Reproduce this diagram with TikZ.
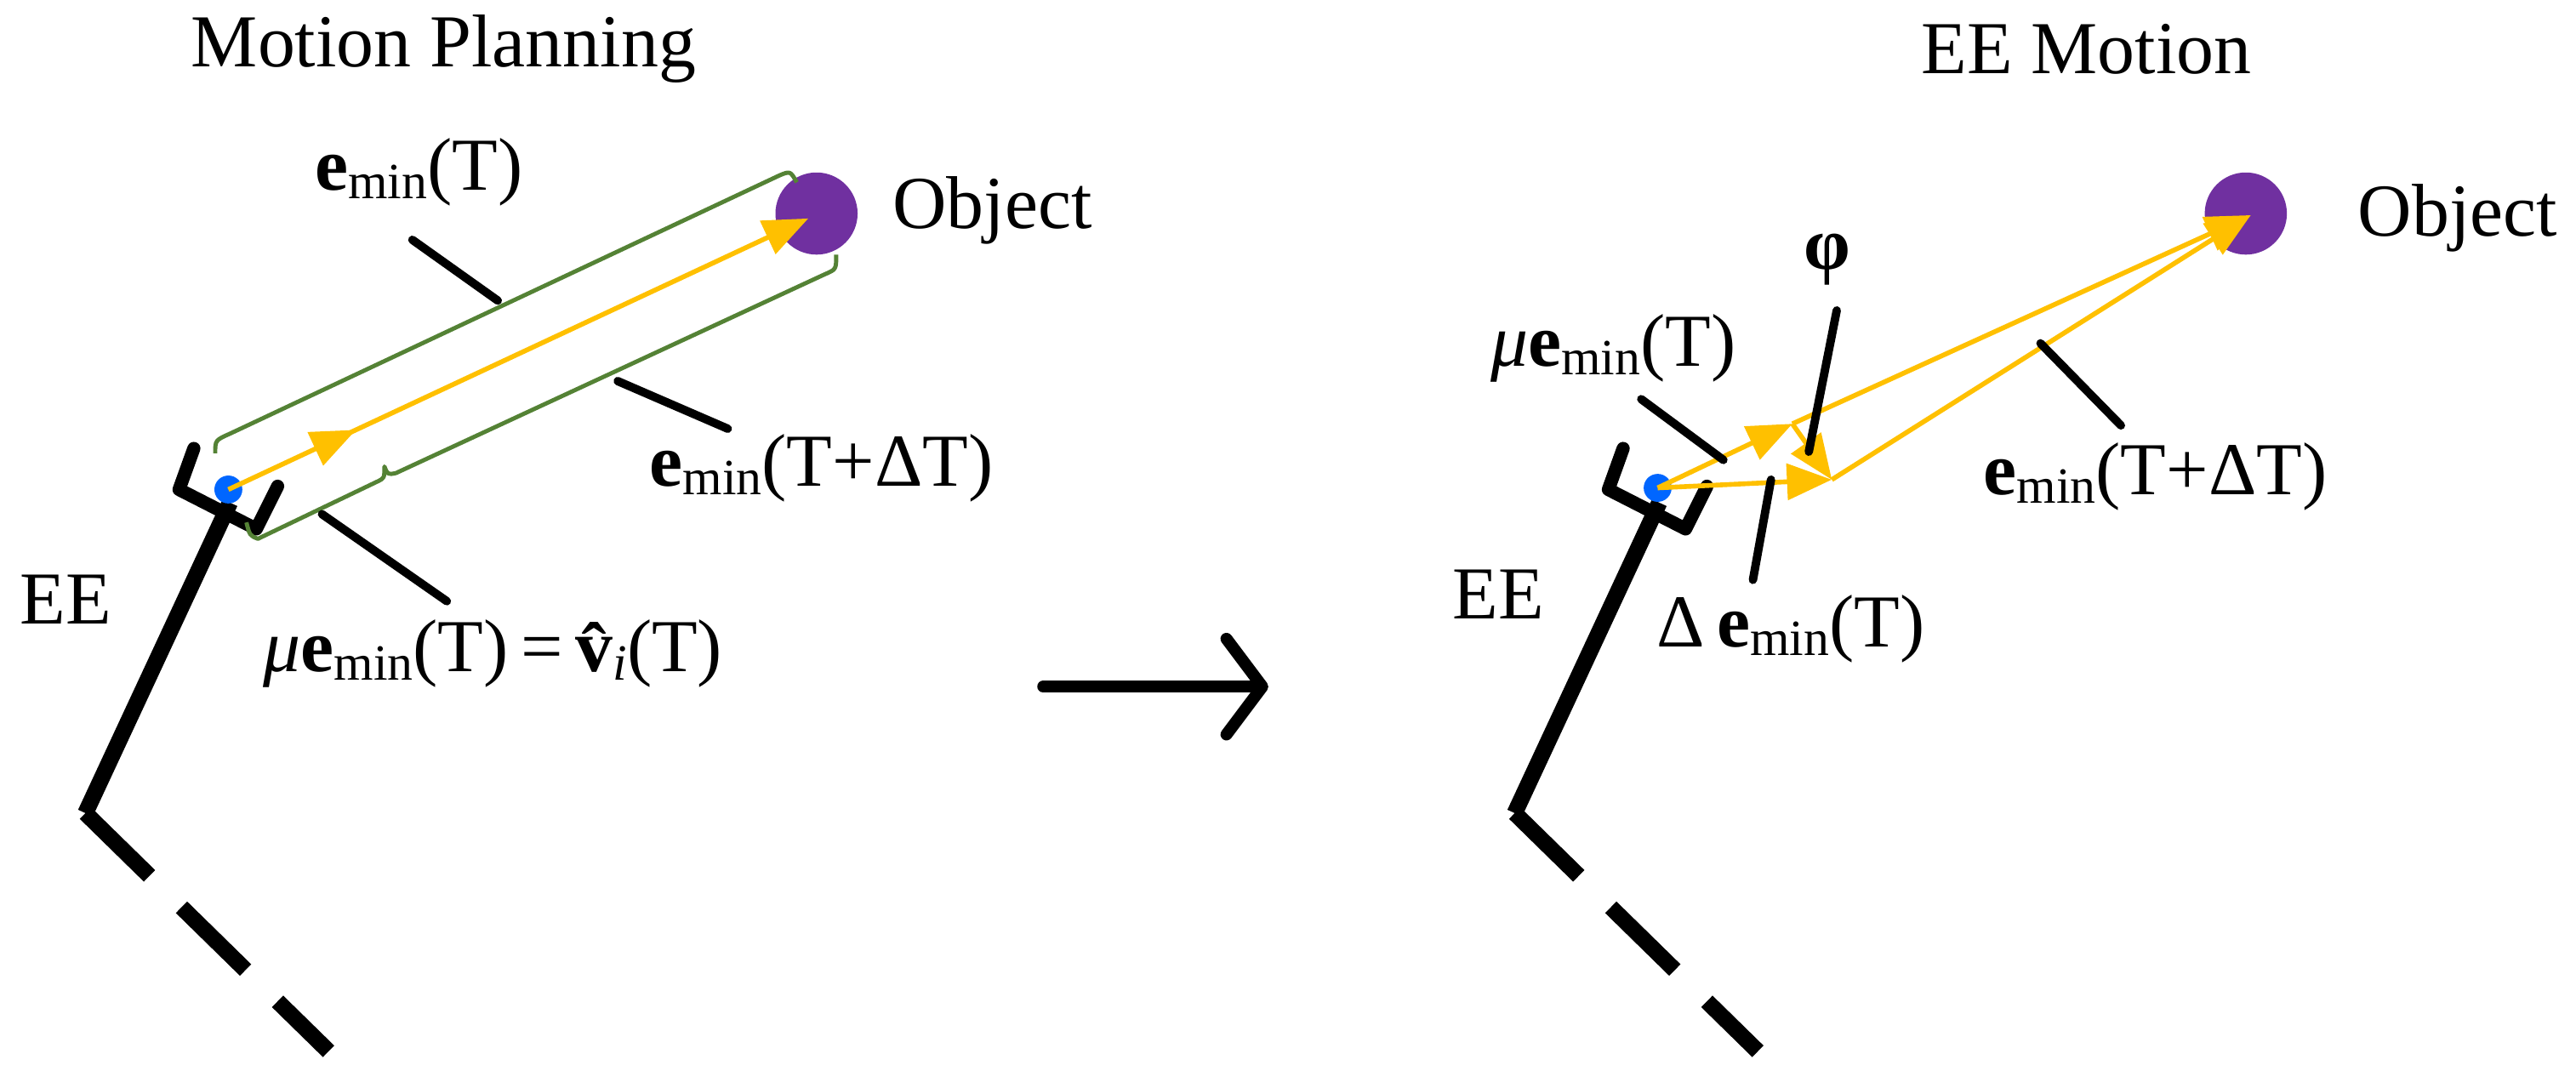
\documentclass[tikz,border=0pt]{standalone}
\usepackage{fontspec}
\setmainfont{Liberation Serif}
\usetikzlibrary{arrows.meta,decorations.markings}
\definecolor{yel}{HTML}{FFC000}
\definecolor{grn}{HTML}{548235}
\definecolor{pur}{HTML}{7030A0}
\definecolor{blu}{HTML}{0066FF}
\newcommand{\emn}{{\bfseries e}\raisebox{-0.25ex}{\fontsize{17}{17}\selectfont min}}
\begin{document}
\begin{tikzpicture}[x=0.01931cm,y=-0.01931cm,
  lbl/.style={font=\fontsize{25}{28}\selectfont, inner sep=0pt},
  tick/.style={line width=2.8pt, line cap=round},
  arm/.style={line width=5.4pt, line join=round},
  grip/.style={line width=4.4pt, line join=round, line cap=round},
  vec/.style={yel, line width=1.6pt, -{Triangle[length=15pt,width=12pt]}},
  brk/.style={grn, line width=1.4pt, line join=round},
  dot/.style={circle, fill=blu, minimum size=17*0.01931cm, inner sep=0pt},
  obj/.style={circle, fill=pur, minimum size=50*0.01931cm, inner sep=0pt}]
\useasboundingbox (0,0) rectangle (1568,648);
% ---------- left panel ----------
\node[lbl] (t1) at (270,30) {Motion Planning};
\node[obj] (o1) at (497,130) {};
\node[lbl,anchor=west] (ol1) at (543,128) {Object};
\node[lbl] (ee1) at (40,365) {EE};
\draw[arm] (140,306) -- (52,495) coordinate (k1);
\draw[arm, dash pattern=on 30pt off 15pt] (52,495) -- (200,640) coordinate (f1);
\draw[grip] (118,273) -- (109,298) -- (156,322) -- (169,296);
\node[dot] (d1) at (139,298) {};
\draw[vec, postaction={decorate, decoration={markings, mark=at position 0.22 with {\arrow{Triangle[length=15pt,width=12pt]}}}}] (d1.center) -- (492,133);
\draw[brk] (131,276) .. controls (131,268) .. (140,264) -- (474,107) .. controls (481,104) .. (485,111);
\draw[brk] (150,318) .. controls (152,326) .. (157,328) -- (230,293) .. controls (234,291) .. (234,284) .. controls (236,289) .. (241,288) -- (502,167) .. controls (509,164) .. (509,155);
\draw[tick] (251,146) -- (303,183);
\node[lbl] (l1) at (255,105) {\emn(T)};
\draw[tick] (376,232) -- (443,261);
\node[lbl] (l2) at (500,285) {\emn(T+ΔT)};
\draw[tick] (196,313) -- (272,366);
\node[lbl] (l3) at (300,398) {\textit{μ}\emn(T)\,=\,{\bfseries\^{v}}\raisebox{-0.25ex}{\fontsize{17}{17}\selectfont\itshape i}(T)};
\draw[line width=4pt, line cap=round, -{Straight Barb[length=12pt,width=32pt,line width=4pt,round]}] (635,418) coordinate (a1) -- (772,418) coordinate (a2);
% ---------- right panel ----------
\node[lbl] (t2) at (1270,30) {EE Motion};
\node[obj] (o2) at (1367,130) {};
\node[lbl,anchor=west] (ol2) at (1435,133) {Object};
\node[lbl] (ee2) at (912,362) {EE};
\draw[arm] (1010,306) -- (922,495) coordinate (k2);
\draw[arm, dash pattern=on 30pt off 15pt] (922,495) -- (1070,640) coordinate (f2);
\draw[grip] (988,273) -- (979,298) -- (1026,322) -- (1039,296);
\node[dot] (d2) at (1009,297) {};
\coordinate (p1) at (1091,258);
\coordinate (p2) at (1115,292);
\coordinate (pt) at (1370,131);
\draw[vec] (d2.center) -- (p1);
\draw[vec] (d2.center) -- (p2);
\draw[vec] (p1) -- (p2);
\draw[vec] (p1) -- (pt);
\draw[vec] (p2) -- (pt);
\draw[tick] (999,243) -- (1049,280);
\node[lbl] (m1) at (982,212) {\textit{μ}\emn(T)};
\draw[tick] (1118,189) -- (1101,275);
\node[lbl] (m2) at (1112,158) {\bfseries φ};
\draw[tick] (1078,292) -- (1067,353);
\node[lbl] (m3) at (1090,383) {Δ\,\emn(T)};
\draw[tick] (1242,209) -- (1291,259);
\node[lbl] (m4) at (1312,290) {\emn(T+ΔT)};
\end{tikzpicture}
\end{document}
